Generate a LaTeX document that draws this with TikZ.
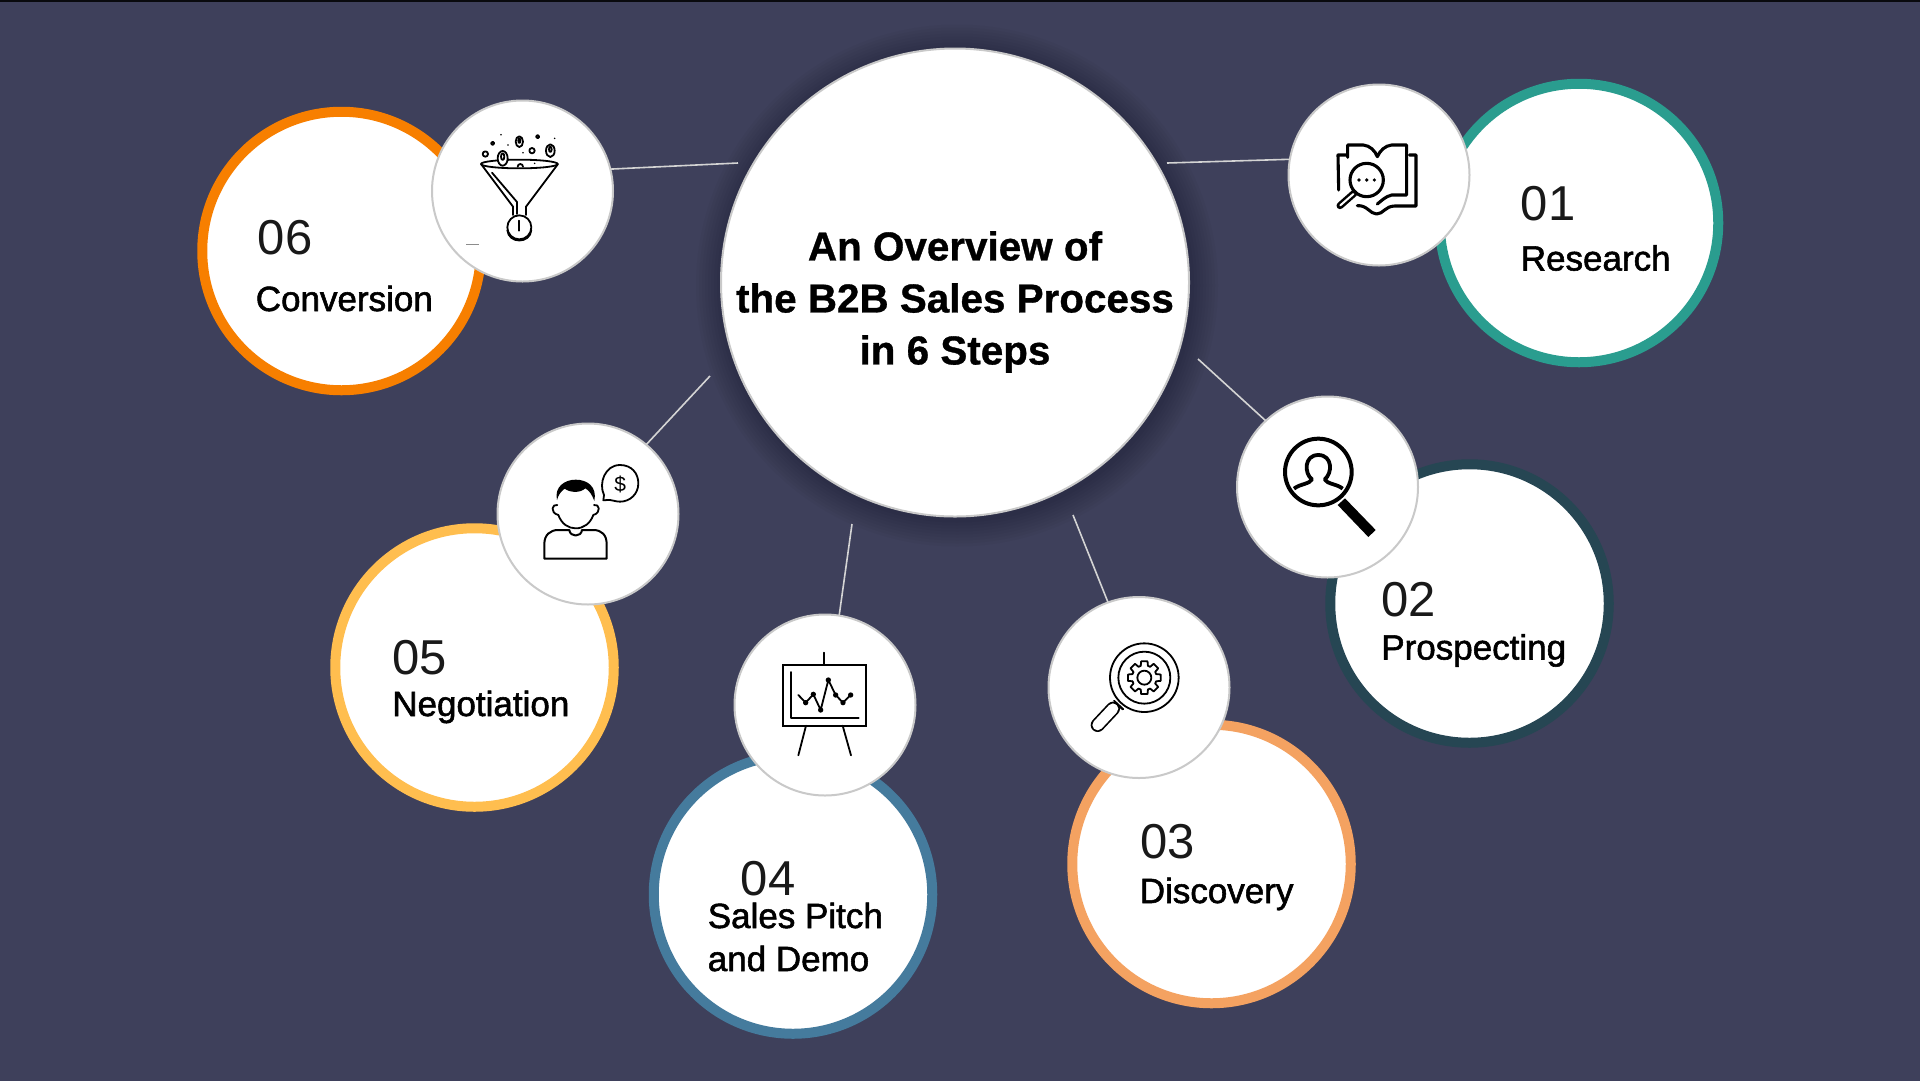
\documentclass[tikz,border=0pt]{standalone}
\usepackage{fontspec}
\setmainfont{Liberation Sans}
\newfontfamily\labelfont[FakeBold=1.6]{Liberation Sans}
\newfontfamily\titlefont[BoldFeatures={FakeBold=0.8}]{Liberation Sans}
\usepackage{tikz}
\usetikzlibrary{positioning}
\usetikzlibrary{calc, shapes, backgrounds}
\definecolor{slatebg}{HTML}{3E405B}
\definecolor{rimgrey}{HTML}{C9C9C9}
\definecolor{linkgrey}{HTML}{D4D4D4}
\definecolor{researchring}{HTML}{2A9D8F}
\definecolor{prospectring}{HTML}{264653}
\definecolor{discoveryring}{HTML}{F4A261}
\definecolor{pitchring}{HTML}{457B9D}
\definecolor{negotiationring}{HTML}{FFBE4F}
\definecolor{conversionring}{HTML}{F77F00}

\begin{document}
\begin{tikzpicture}[x=1pt,y=-1pt,semithick]
 \tikzstyle{ring node}=[circle,fill=white,line width=10pt,minimum size=278.5pt,inner sep=0,outer sep=0]
 \tikzstyle{icon node}=[circle,fill=white,draw=rimgrey,line width=2pt,minimum size=181pt,inner sep=0,outer sep=0]
 \tikzstyle{hub node}=[circle,fill=white,draw=rimgrey,line width=2pt,minimum size=468pt,inner sep=0,outer sep=0]
 \tikzstyle{title node}=[inner sep=0,align=center,font=\titlefont\bfseries\fontsize{40.4}{52}\selectfont]
 \tikzstyle{num node}=[anchor=base west,inner sep=0,text=black!90,font=\fontsize{49}{49}\selectfont]
 \tikzstyle{label node}=[anchor=base west,inner sep=0,align=left,font=\labelfont\fontsize{35}{43}\selectfont]
 \tikzset{
 	link/.style={draw=linkgrey,line width=1.6pt},
 	glyph/.style={draw=black,line width=1.8pt,line cap=round,line join=round},
 	glyph heavy/.style={draw=black,line width=3.1pt,line cap=round,line join=round}
 }

       \useasboundingbox (0,0) rectangle (1920,1080);

       \node[hub node] (main) at (955,282.5) {};
       \node[title node] (title) at (main) [yshift=-19.5pt] {An Overview of\\the B2B Sales Process\\in 6 Steps};

       \node[ring node,draw=researchring] (r1) [right of=main,node distance=624pt,yshift=59.5pt] {};
       \node[ring node,draw=prospectring] (r2) [right of=main,node distance=514.5pt,yshift=-321pt] {};
       \node[ring node,draw=discoveryring] (r3) [right of=main,node distance=256.5pt,yshift=-581.5pt] {};
       \node[ring node,draw=pitchring] (r4) [left of=main,node distance=162pt,yshift=-612pt] {};
       \node[ring node,draw=negotiationring] (r5) [left of=main,node distance=480.5pt,yshift=-385pt] {};
       \node[ring node,draw=conversionring] (r6) [left of=main,node distance=613.5pt,yshift=31.5pt] {};

       \node[icon node] (i1) at (r1) [xshift=-200pt,yshift=48pt] {};
       \node[icon node] (i2) at (r2) [xshift=-142pt,yshift=116.5pt] {};
       \node[icon node] (i3) at (r3) [xshift=-72.5pt,yshift=176.5pt] {};
       \node[icon node] (i4) at (r4) [xshift=32pt,yshift=189.5pt] {};
       \node[icon node] (i5) at (r5) [xshift=113.5pt,yshift=153.5pt] {};
       \node[icon node] (i6) at (r6) [xshift=181pt,yshift=60pt] {};

       \node[num node] (n1) at (r1) [xshift=-58.5pt,yshift=3pt] {01};
       \node[num node] (n2) at (r2) [xshift=-88.5pt,yshift=-13pt] {02};
       \node[num node] (n3) at (r3) [xshift=-71.5pt,yshift=6pt] {03};
       \node[num node] (n4) at (r4) [xshift=-52.5pt,yshift=-0.5pt] {04};
       \node[num node] (n5) at (r5) [xshift=-82.5pt,yshift=-6.5pt] {05};
       \node[num node] (n6) at (r6) [xshift=-84pt,yshift=-3pt] {06};

       \node[label node] (t1) at (n1.base west) [yshift=-50.5pt] {Research};
       \node[label node] (t2) at (n2.base west) [yshift=-43pt] {Prospecting};
       \node[label node] (t3) at (n3.base west) [xshift=-.5pt,yshift=-45pt] {Discovery};
       \node[label node] (t4) at (n4.base west) [xshift=-33pt,yshift=-76pt] {Sales Pitch\\and Demo};
       \node[label node] (t5) at (n5.base west) [yshift=-42pt] {Negotiation};
       \node[label node] (t6) at (n6.base west) [xshift=-2pt,yshift=-57pt] {Conversion};

       \coordinate (c1) at (1167,163);
       \coordinate (c2) at (1198,359);
       \coordinate (c3) at (1073,515);
       \coordinate (c4) at (852,524);
       \coordinate (c5) at (710,376);
       \coordinate (c6) at (738,163);

     \path[link]  (c1) edge (i1.170);
     \path[link]  (c2) edge (i2.133);
     \path[link]  (c3) edge (i3.110);
     \path[link]  (c4) edge (i4.81);
     \path[link]  (c5) edge (i5.50);
     \path[link]  (c6) edge (i6.14);

     \begin{scope}[on background layer]
       \fill[slatebg] (-2,-2) rectangle (1922,1082);
       \fill[black!85!slatebg] (-2,-2) rectangle (1922,1.5);
       \foreach \s in {3,6,...,27}
         \fill[black,opacity=.022] ($(main)+(2,3)$) circle ({234+\s});
     \end{scope}

     % research
     \begin{scope}[shift={(1280,80)},scale=1/3]
       \path[glyph heavy] (203,232) -- (203,195) -- (250,195) .. controls (270,197) and (285,212) .. (292,230) .. controls (300,212) and (315,197) .. (335,195) -- (380,195) -- (380,345) -- (335,345) .. controls (315,350) and (305,362) .. (292,372);
       \path[glyph heavy] (232,377) .. controls (262,375) and (270,402) .. (290,402) .. controls (310,402) and (315,378) .. (345,378) -- (408,378) -- (408,225) -- (388,225);
       \path[glyph heavy] (176,330) -- (174,225) -- (203,225);
       \path[glyph heavy,fill=white] (260,300) circle (50);
       \foreach \d in {237,260,283}
         \fill[black] (\d,300) circle (5.5);
       \draw[black,line width=7pt,line cap=round] (222,340) -- (180,377);
       \draw[white,line width=2pt,line cap=round] (220,342) -- (181,376);
     \end{scope}

     % prospecting
     \begin{scope}[shift={(1230,390)},scale=1/3]
       \draw[black,line width=4pt] (265,246) circle (100);
       \draw[black,line width=3.8pt,line join=round] (192,296) .. controls (208,282) and (240,282) .. (246,268) .. controls (222,250) and (222,195) .. (265,195) .. controls (308,195) and (308,250) .. (284,268) .. controls (290,282) and (322,282) .. (338,296);
       \fill[black] (345,325) -- (437,420) -- (415,441) -- (323,345) -- cycle;
     \end{scope}

     % discovery
     \begin{scope}[shift={(1040,590)},scale=1/3]
       \path[glyph] (313,263) circle (103);
       \path[glyph] (313,263) circle (78);
       \path[glyph] (313,263) circle (21);
       \foreach \a in {0,45,...,315}
         \path[glyph,shift={(313,263)}] (\a-17:37) -- (\a-11:50) -- (\a+11:50) -- (\a+17:37) -- (\a+28:37);
       \path[glyph] (222,332) -- (250,358);
       \draw[black,line width=14pt,line cap=round] (219,356) -- (173,405);
       \draw[white,line width=10.6pt,line cap=round] (219,356) -- (173,405);
       \path[glyph] (225,337) -- (248,358);
     \end{scope}

     % sales pitch
     \begin{scope}[shift={(725,610)},scale=1/3]
       \draw[black,line width=2.2pt] (175,165) rectangle (422,347);
       \path[glyph] (298,128) -- (298,165);
       \path[glyph] (243,347) -- (220,436);
       \path[glyph] (353,347) -- (378,436);
       \path[glyph] (199,186) -- (199,323) -- (401,323);
       \path[glyph] (220,255) -- (242,278) -- (265,253) -- (287,300) -- (310,210) -- (332,255) -- (354,278) -- (377,255);
       \foreach \p in {(242,278),(265,253),(287,300),(310,210),(332,255),(354,278),(377,255)}
         \fill[black] \p circle (8);
     \end{scope}

     % negotiation
     \begin{scope}[shift={(490,420)},scale=1/3]
       \draw[black,line width=2pt,line join=round] (163,416) -- (163,372) .. controls (163,345) and (180,330) .. (205,330) -- (238,330) .. controls (240,352) and (274,352) .. (276,330) -- (310,330) .. controls (335,330) and (350,345) .. (350,372) -- (350,416) -- cycle;
       \path[glyph] (202,255) .. controls (187,250) and (178,278) .. (205,285) .. controls (215,312) and (235,325) .. (257,325) .. controls (280,325) and (300,312) .. (310,285) .. controls (335,278) and (328,250) .. (312,255);
       \fill[black] (201,240) .. controls (192,200) and (225,179) .. (257,179) .. controls (292,179) and (322,200) .. (313,243) .. controls (305,222) and (298,212) .. (286,205) .. controls (270,220) and (240,218) .. (224,206) .. controls (212,215) and (205,225) .. (201,240) -- cycle;
       \path[glyph] (342,225) .. controls (325,190) and (345,135) .. (390,135) .. controls (425,135) and (445,160) .. (445,190) .. controls (445,222) and (420,245) .. (390,245) .. controls (375,245) and (362,238) .. (352,240) -- (340,241) -- cycle;
       \node[inner sep=0,font=\fontsize{21}{21}\selectfont] (dollar) at (391,192) {\$};
     \end{scope}

     % conversion
     \begin{scope}[shift={(420,90)},scale=1/3]
       \path[glyph] (298,222) ellipse (115 and 13);
       \path[glyph] (183,222) -- (279,350) -- (279,375);
       \path[glyph] (414,222) -- (318,350) -- (318,375);
       \path[glyph] (216,248) -- (291,336) -- (291,372);
       \path[glyph] (298,412) circle (36);
       \path[glyph] (262,420) .. controls (265,462) and (331,462) .. (334,420);
       \path[glyph] (298,392) -- (298,422);
       \path[glyph,fill=white] (248,205) ellipse (15 and 22);
       \path[glyph] (248,200) ellipse (5 and 10);
       \path[glyph] (298,155) ellipse (11 and 16);
       \path[glyph] (298,152) ellipse (3 and 7);
       \path[glyph] (391,182) ellipse (13 and 19);
       \path[glyph] (391,178) ellipse (4 and 8);
       \path[glyph] (196,192) circle (8);
       \path[glyph] (218,160) circle (5);
       \path[glyph] (336,182) circle (8);
       \path[glyph] (353,140) circle (5);
       \path[glyph] (293,230) arc (180:360:8 and 8);
       \foreach \p in {(243,134),(264,165),(309,188),(404,145),(344,220)}
         \fill[black] \p circle (2.5);
       \draw[black!45,line width=.8pt] (138,463) -- (178,463);
     \end{scope}
 \end{tikzpicture}
\end{document}
